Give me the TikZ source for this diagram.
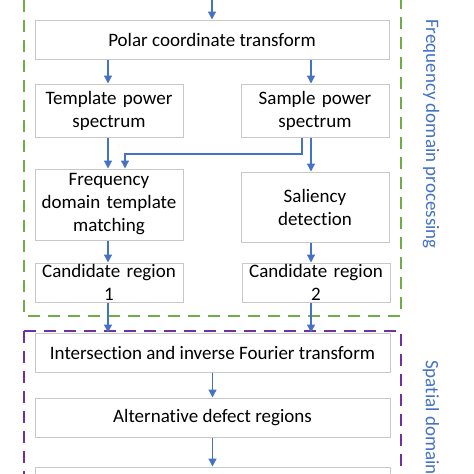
\documentclass[tikz,border=0pt]{standalone}
\usepackage{fontspec}
\setmainfont[Ligatures={NoCommon}]{Carlito}
\usetikzlibrary{arrows.meta}
\definecolor{arrblue}{HTML}{4472C4}
\definecolor{boxgray}{HTML}{C8C8C8}
\definecolor{dgreen}{HTML}{70AD47}
\definecolor{dpurple}{HTML}{7030A0}
\definecolor{lblblue}{HTML}{4472C4}
\begin{document}
\begin{tikzpicture}[x=1pt,y=-1pt,
 box/.style={draw=boxgray, line width=1pt, fill=white, align=center, inner sep=0pt,
   font=\fontsize{19}{23}\selectfont, text=black},
 narrow/.style={box, minimum width=148pt, text width=146pt},
 wide/.style={box, minimum width=355pt, minimum height=39pt},
 arr/.style={draw=arrblue, line width=1.3pt, -{Triangle[length=8pt,width=8pt]}},
 grp/.style={line width=1.6pt, dash pattern=on 12pt off 8pt},
 vlabel/.style={text=lblblue, rotate=-90, font=\fontsize{19}{23}\selectfont, inner sep=0pt}
]
\useasboundingbox (0,0) rectangle (474,474);
\clip (0,0) rectangle (474,474);
% group frames
\draw[grp, draw=dgreen] (24,-20) rectangle (401,316);
\draw[grp, draw=dpurple] (24,331) rectangle (401,520);
% boxes
\node[wide, minimum width=354pt] (polar) at (212,39.5) {Polar coordinate transform};
\node[narrow, minimum height=53pt] (tps) at (109,110.5) {Template power\\spectrum};
\node[narrow, minimum height=53pt] (sps) at (315,110.5) {Sample power\\spectrum};
\node[narrow, minimum height=71pt] (fdtm) at (109,204.5) {Frequency\\domain template\\matching};
\node[narrow, minimum height=70pt] (sal) at (315,207) {Saliency\\detection};
\node[narrow, minimum height=39pt] (c1) at (109,282.5) {Candidate region\\1};
\node[narrow, minimum height=39pt] (c2) at (316,282.5) {Candidate region\\2};
\node[wide] (inter) at (212.5,352.5) {Intersection and inverse Fourier transform};
\node[wide] (alt) at (212.5,417.5) {Alternative defect regions};
\node[wide] (next) at (212.5,486.5) {};
% labels
\node[vlabel] (flab) at (431,134) {Frequency domain processing};
\node[vlabel, anchor=west] (slab) at (431,360) {Spatial domain};
% connectors
\coordinate (top) at (212,-2);
\coordinate (xl) at (108,0);
\coordinate (xr) at (311,0);
\coordinate (xm) at (125,0);
\coordinate (xs) at (302,0);
\coordinate (ty) at (0,154);
\draw[arr] (top) -- (polar.north);
\draw[arr] (polar.south -| xl) -- (tps.north -| xl);
\draw[arr] (polar.south -| xr) -- (sps.north -| xr);
\draw[arr] (tps.south -| xl) -- (fdtm.north -| xl);
\draw[arr] (sps.south -| xs) -- (ty -| xs) -- (ty -| xm) -- (fdtm.north -| xm);
\draw[arr] (sps.south -| xr) -- (sal.north -| xr);
\draw[arr] (fdtm.south -| xl) -- (c1.north -| xl);
\draw[arr] (sal.south -| xr) -- (c2.north -| xr);
\draw[arr] (c1.south -| xl) -- (inter.north -| xl);
\draw[arr] (c2.south -| xr) -- (inter.north -| xr);
\draw[arr] (inter.south) -- (alt.north);
\draw[arr] (alt.south) -- (next.north);
\end{tikzpicture}
\end{document}
